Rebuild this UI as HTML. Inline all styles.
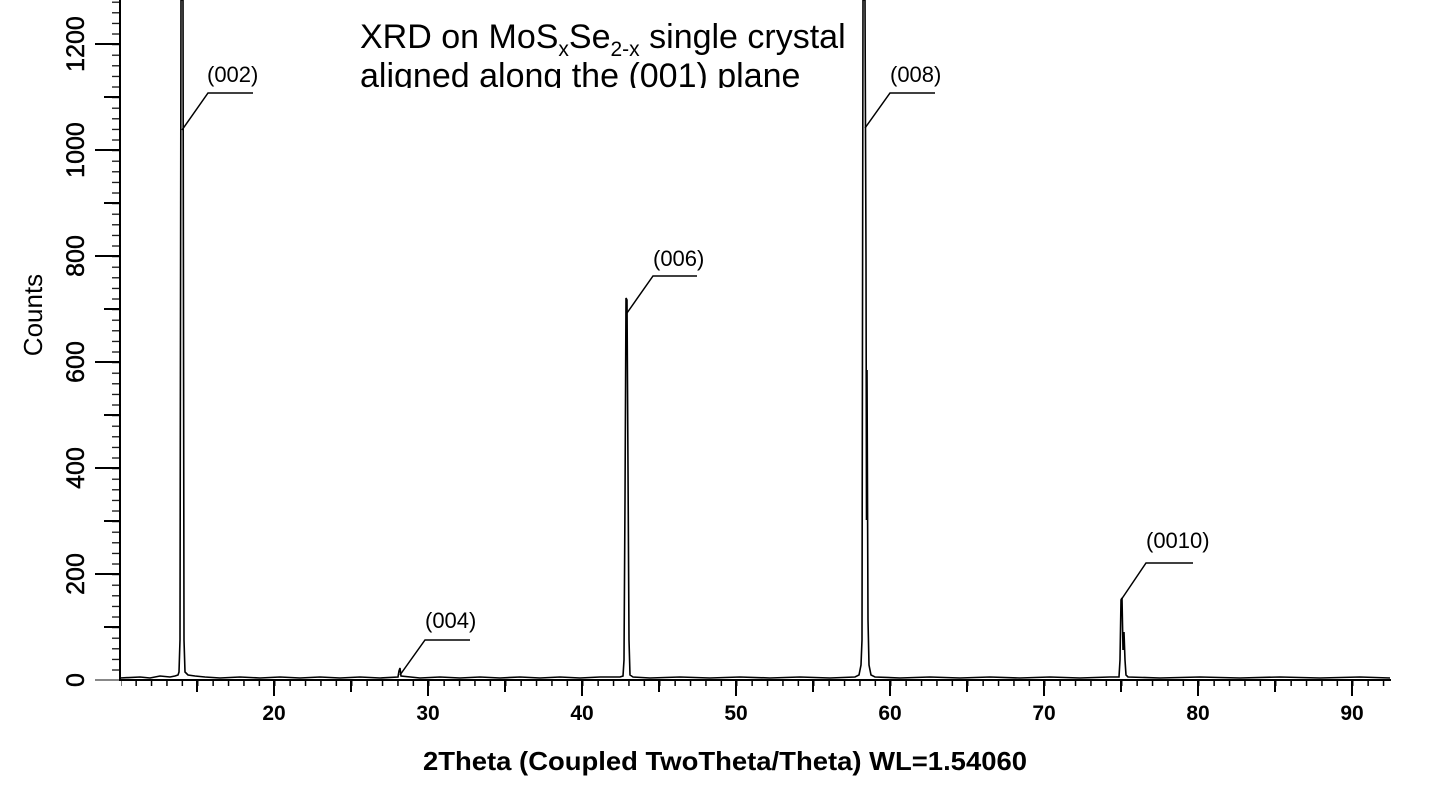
<!DOCTYPE html>
<html><head><meta charset="utf-8"><style>
html,body{margin:0;padding:0;background:#fff;}
svg{display:block;font-family:"Liberation Sans",Arial,sans-serif;}
</style></head><body>
<svg width="1448" height="800" viewBox="0 0 1448 800">
<defs>
<clipPath id="tc"><rect x="340" y="0" width="560" height="88"/></clipPath>
<pattern id="xm" patternUnits="userSpaceOnUse" x="120" y="680" width="15.4" height="10"><line x1="0" y1="0" x2="0" y2="6" stroke="#000" stroke-width="3"/></pattern>
<pattern id="ym" patternUnits="userSpaceOnUse" x="100" y="680" width="30" height="10.6"><line x1="0" y1="0" x2="30" y2="0" stroke="#000" stroke-width="2.4"/></pattern>
</defs>
<rect x="121" y="680" width="1270" height="7" fill="url(#xm)"/>
<rect x="112" y="0" width="8" height="681" fill="url(#ym)"/>
<g stroke="#000" stroke-width="2">
<line x1="274" y1="680" x2="274" y2="696"/><line x1="428" y1="680" x2="428" y2="696"/><line x1="582" y1="680" x2="582" y2="696"/><line x1="736" y1="680" x2="736" y2="696"/><line x1="890" y1="680" x2="890" y2="696"/><line x1="1044" y1="680" x2="1044" y2="696"/><line x1="1198" y1="680" x2="1198" y2="696"/><line x1="1352" y1="680" x2="1352" y2="696"/>
<line x1="197" y1="680" x2="197" y2="692"/><line x1="351" y1="680" x2="351" y2="692"/><line x1="505" y1="680" x2="505" y2="692"/><line x1="659" y1="680" x2="659" y2="692"/><line x1="813" y1="680" x2="813" y2="692"/><line x1="967" y1="680" x2="967" y2="692"/><line x1="1121" y1="680" x2="1121" y2="692"/><line x1="1275" y1="680" x2="1275" y2="692"/>
<line x1="95" y1="574" x2="120" y2="574"/><line x1="95" y1="468" x2="120" y2="468"/><line x1="95" y1="362" x2="120" y2="362"/><line x1="95" y1="256" x2="120" y2="256"/><line x1="95" y1="150" x2="120" y2="150"/><line x1="95" y1="44" x2="120" y2="44"/>
<line x1="104" y1="627" x2="120" y2="627"/><line x1="104" y1="521" x2="120" y2="521"/><line x1="104" y1="415" x2="120" y2="415"/><line x1="104" y1="309" x2="120" y2="309"/><line x1="104" y1="203" x2="120" y2="203"/><line x1="104" y1="97" x2="120" y2="97"/>
</g>
<line x1="95" y1="680" x2="120" y2="680" stroke="#888" stroke-width="2"/>
<line x1="120" y1="0" x2="120" y2="681" stroke="#000" stroke-width="2"/>
<line x1="120" y1="680" x2="1391" y2="680" stroke="#000" stroke-width="2"/>
<path fill="none" stroke="#000" stroke-width="1.6" d="M120,678 L140,677 L150,678 L160,676 L170,677 L175,676 L178,675 L179,672 L180,640 L181,0 L183,0 L184,640 L185,672 L188,675 L195,676 L205,677 L220,678 L240,677 L260,678 L280,677 L300,678 L320,677 L340,678 L360,677 L380,678 L398,677 L399,671 L400,668 L401,676 L420,678 L440,677 L460,678 L480,677 L500,678 L520,677 L540,678 L560,677 L580,678 L600,677 L620,677 L623,676 L624,660 L625,500 L626,298 L627,300 L628,468 L629,640 L630,675 L633,677 L650,678 L680,677 L710,678 L740,677 L770,678 L800,677 L830,678 L855,677 L859,675 L861,665 L862,640 L863,0 L865,0 L866,260 L866.5,520 L867,370 L868,620 L869,665 L871,675 L875,677 L900,678 L930,677 L960,678 L990,677 L1020,678 L1050,677 L1080,678 L1110,677 L1119,677 L1120,660 L1121,600 L1122,598 L1123,650 L1124,632 L1125,660 L1126,675 L1128,677 L1160,678 L1200,677 L1240,678 L1280,677 L1320,678 L1360,677 L1390,678"/>
<g font-size="25" text-anchor="middle" stroke="#000" stroke-width="0.5">
<text x="84" y="680" transform="rotate(-90 84 680)">0</text>
<text x="84" y="574" transform="rotate(-90 84 574)">200</text>
<text x="84" y="468" transform="rotate(-90 84 468)">400</text>
<text x="84" y="362" transform="rotate(-90 84 362)">600</text>
<text x="84" y="256" transform="rotate(-90 84 256)">800</text>
<text x="84" y="150" transform="rotate(-90 84 150)">1000</text>
<text x="84" y="44" transform="rotate(-90 84 44)">1200</text>
</g>
<g font-size="21" font-weight="bold" text-anchor="middle">
<text x="274" y="720">20</text><text x="428" y="720">30</text><text x="582" y="720">40</text><text x="736" y="720">50</text><text x="890" y="720">60</text><text x="1044" y="720">70</text><text x="1198" y="720">80</text><text x="1352" y="720">90</text>
</g>
<text x="42" y="315" font-size="26" text-anchor="middle" transform="rotate(-90 42 315)">Counts</text>
<text x="725" y="770" font-size="26" font-weight="bold" text-anchor="middle" textLength="604" lengthAdjust="spacingAndGlyphs">2Theta (Coupled TwoTheta/Theta) WL=1.54060</text>
<g clip-path="url(#tc)" font-size="34">
<text x="360" y="48">XRD on MoS<tspan font-size="21" dy="8">x</tspan><tspan dy="-8">Se</tspan><tspan font-size="21" dy="8">2-x</tspan><tspan dy="-8"> single crystal</tspan></text>
<text x="360" y="87">aligned along the (001) plane</text>
</g>
<g fill="none" stroke="#000" stroke-width="1.5">
<polyline points="182,130 208,93 253,93"/>
<polyline points="400,675 425,640 470,640"/>
<polyline points="627,313 653,276 697,276"/>
<polyline points="865,128 890,93 935,93"/>
<polyline points="1121,600 1146,563 1193,563"/>
</g>
<g font-size="22">
<text x="207" y="82">(002)</text>
<text x="425" y="628">(004)</text>
<text x="653" y="266">(006)</text>
<text x="890" y="82">(008)</text>
<text x="1146" y="548">(0010)</text>
</g>
</svg>
</body></html>
